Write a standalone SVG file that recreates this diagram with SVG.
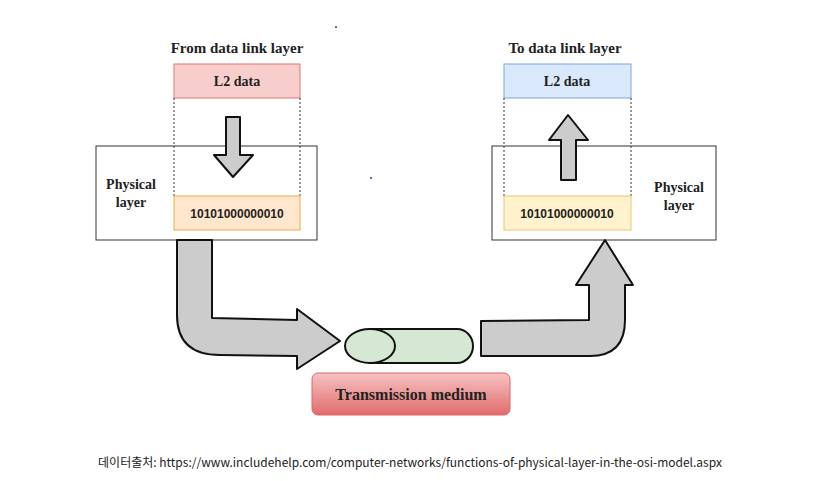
<svg xmlns="http://www.w3.org/2000/svg" width="817" height="481" viewBox="0 0 817 481">
<style>
.t{font-family:"Liberation Serif",serif;font-weight:bold;fill:#222}
.b{font-family:"Liberation Sans",sans-serif;font-weight:bold;font-size:12px;fill:#222}
.arr{fill:#cccccc;stroke:#111;stroke-width:2;stroke-linejoin:round}
.dot{stroke:#333;stroke-dasharray:2 2;fill:none}
</style>
<defs>
<linearGradient id="g" x1="0" y1="0" x2="0" y2="1"><stop offset="0" stop-color="#f6c3c3"/><stop offset="1" stop-color="#e26b6b"/></linearGradient>
</defs>
<rect width="817" height="481" fill="#fff"/>
<g id="left">
<text class="t" x="237" y="53" font-size="15" text-anchor="middle">From data link layer</text>
<rect x="96" y="146" width="221" height="94" fill="#fff" stroke="#333"/>
<rect x="174" y="64" width="126" height="34" fill="#f8cecc" stroke="#d77"/>
<text class="t" x="237" y="86" font-size="14" text-anchor="middle">L2 data</text>
<line class="dot" x1="174" y1="98" x2="174" y2="196"/><line class="dot" x1="300" y1="98" x2="300" y2="196"/>
<rect x="174" y="196" width="126" height="34" fill="#ffe6cc" stroke="#e8b040"/>
<text class="b" x="237" y="218" text-anchor="middle">10101000000010</text>
<text class="t" x="131" y="189" font-size="14" text-anchor="middle">Physical</text>
<text class="t" x="131" y="207" font-size="14" text-anchor="middle">layer</text>
<path class="arr" d="M226,117 H240 V155 H253 L233,177 L214,155 H226 Z"/>
</g>
<g id="right">
<text class="t" x="565" y="53" font-size="15" text-anchor="middle">To data link layer</text>
<rect x="492" y="146" width="224" height="94" fill="#fff" stroke="#333"/>
<rect x="504" y="64" width="127" height="34" fill="#dae8fc" stroke="#7ea6e0"/>
<text class="t" x="567" y="86" font-size="14" text-anchor="middle">L2 data</text>
<line class="dot" x1="504" y1="98" x2="504" y2="196"/><line class="dot" x1="631" y1="98" x2="631" y2="196"/>
<rect x="504" y="196" width="127" height="34" fill="#fff2cc" stroke="#e8c870"/>
<text class="b" x="567" y="218" text-anchor="middle">10101000000010</text>
<text class="t" x="679" y="192" font-size="14" text-anchor="middle">Physical</text>
<text class="t" x="679" y="210" font-size="14" text-anchor="middle">layer</text>
<path class="arr" d="M568,115 L588,140 H576 V180 H561 V140 H549 Z"/>
</g>
<g id="medium">
<path d="M370,329 H457 A16,17 0 0 1 457,363 H370 Z" fill="#d5e8d4" stroke="#111" stroke-width="2"/>
<ellipse cx="370" cy="346" rx="25" ry="17" fill="#d5e8d4" stroke="#111" stroke-width="2"/>
</g>
<g id="label">
<rect x="312" y="373" width="198" height="42" rx="6" fill="url(#g)" stroke="#d66"/>
<text class="t" x="411" y="400" font-size="16" text-anchor="middle">Transmission medium</text>
</g>
<g id="connectors">
<path class="arr" d="M177,240 H212 V318 L297,320 V309 L340,341 L297,369 V356 L220,355 Q177,355 177,315 Z"/>
<path class="arr" d="M481,321 L589,320 V285 H576 L605,240 L633,285 H625 V320 Q625,356 590,356 L481,356 Z"/>
</g>
<circle cx="336" cy="27" r="1" fill="#33c"/><circle cx="371" cy="178" r="1" fill="#33c"/>
<text x="410" y="467" font-family="'Noto Sans CJK KR','Noto Sans',sans-serif" font-size="12" fill="#222" text-anchor="middle">데이터출처: https://www.includehelp.com/computer-networks/functions-of-physical-layer-in-the-osi-model.aspx</text>
</svg>
